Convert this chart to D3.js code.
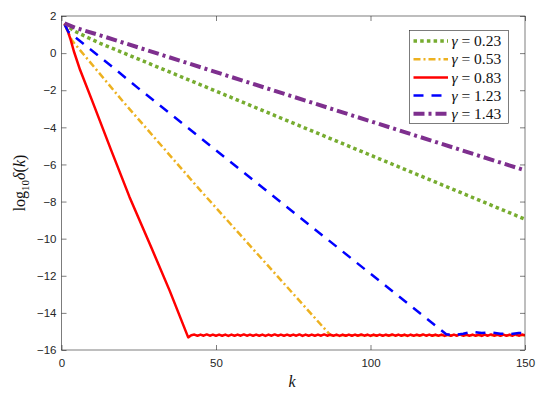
<!DOCTYPE html>
<html>
<head>
<meta charset="utf-8">
<script src="https://cdn.jsdelivr.net/npm/d3@7"></script>
<style>
  html, body { margin: 0; padding: 0; background: #fff; }
  svg { display: block; }
  .serif { font-family: "Liberation Serif", "DejaVu Serif", serif; }
</style>
</head>
<body>
<svg id="chart" width="545" height="396"></svg>
<script>
// ---------------- data ----------------
const gammaLabels = ["0.23", "0.53", "0.83", "1.23", "1.43"];
const xTicks = [0, 50, 100, 150];
const yTicks = [-16, -14, -12, -10, -8, -6, -4, -2, 0, 2];

// gamma = 0.23 (read points)
const kG023 = [1, 4, 9, 12.5, 50, 100, 150];
const vG023 = [1.6, 1.2, 0.8, 0.53, -2.05, -5.5, -8.95];

// gamma = 0.53
const kG053 = [1, 3.3, 19.5, 44.8, 87, 150];
const vG053 = [1.55, 0.7, -2.53, -7.37, -15.2, -15.2];

// gamma = 0.83 (descent)
const kG083 = [1, 2, 3, 4, 6, 10, 16, 22, 29, 35, 41];
const vG083 = [1.6, 1.2, 0.7, 0.1, -0.9, -2.6, -5.2, -7.75, -10.45, -12.8, -15.32];
// gamma = 0.83 floor, one value per k starting at k = 42
const g083FloorStart = 42;
const vG083Floor = [
  -15.20, -15.17, -15.23, -15.17, -15.23, -15.16, -15.23, -15.17, -15.23, -15.17,
  -15.23, -15.17, -15.24, -15.17, -15.23, -15.17, -15.23, -15.16, -15.23, -15.17,
  -15.23, -15.17, -15.23, -15.17, -15.24, -15.17, -15.23, -15.16, -15.23, -15.17,
  -15.23, -15.17, -15.23, -15.17, -15.23, -15.16, -15.24, -15.17, -15.23, -15.17,
  -15.23, -15.17, -15.23, -15.16, -15.23, -15.17, -15.23, -15.17, -15.24, -15.17,
  -15.23, -15.17, -15.23, -15.17, -15.23, -15.16, -15.23, -15.17, -15.24, -15.17,
  -15.23, -15.17, -15.23, -15.17, -15.23, -15.16, -15.23, -15.17, -15.23, -15.17,
  -15.24, -15.17, -15.23, -15.17, -15.23, -15.16, -15.23, -15.17, -15.23, -15.17,
  -15.23, -15.17, -15.24, -15.17, -15.23, -15.17, -15.23, -15.16, -15.23, -15.17,
  -15.23, -15.17, -15.23, -15.17, -15.24, -15.17, -15.23, -15.16, -15.23, -15.17,
  -15.23, -15.17, -15.23, -15.17, -15.23, -15.16, -15.23, -15.17, -15.20
];

// gamma = 1.23
const kG123 = [1, 2.2, 15.7, 24.9, 124.5, 127, 130, 133, 136, 139, 142, 145, 148, 150];
const vG123 = [1.55, 1.15, -0.64, -1.9, -15.15, -15.2, -15.12, -15.02, -15.08, -15.05, -15.12, -15.15, -15.08, -15.1];

// gamma = 1.43
const kG143 = [1, 4.4, 12.5, 150];
const vG143 = [1.6, 1.37, 0.96, -6.32];

// ---------------- chart ----------------
const svg = d3.select("#chart");
const W = 545, H = 396;
const L = 61.5, R = 525, T = 16, B = 350;
svg.append("rect").attr("width", W).attr("height", H).attr("fill", "#fff");

const x = d3.scaleLinear().domain([0, 150]).range([L, R]);
const y = d3.scaleLinear().domain([-16, 2]).range([B, T]);

const axisColor = "#262626";

function styleAxis(g, showLabels) {
  g.select(".domain").remove();
  g.attr("font-family", "Liberation Sans, Arial, sans-serif").attr("font-size", 11.5);
  g.selectAll(".tick line").attr("stroke", axisColor).attr("stroke-width", 0.6);
  g.selectAll(".tick text").attr("fill", axisColor);
  if (!showLabels) g.selectAll(".tick text").remove();
}

svg.append("g").attr("transform", `translate(0,${B})`)
  .call(d3.axisBottom(x).tickValues(xTicks).tickSize(-5).tickPadding(9))
  .call(g => styleAxis(g, true));
svg.append("g").attr("transform", `translate(0,${T})`)
  .call(d3.axisTop(x).tickValues(xTicks).tickSize(-5))
  .call(g => styleAxis(g, false));
svg.append("g").attr("transform", `translate(${L},0)`)
  .call(d3.axisLeft(y).tickValues(yTicks).tickSize(-5).tickPadding(5))
  .call(g => styleAxis(g, true));
svg.append("g").attr("transform", `translate(${R},0)`)
  .call(d3.axisRight(y).tickValues(yTicks).tickSize(-5))
  .call(g => styleAxis(g, false));

// series
const floorK = vG083Floor.map((_, i) => g083FloorStart + i);
const series = [
  { k: kG023, v: vG023, color: "#77ac30", width: 3.5, dash: "3.5,3.2", label: gammaLabels[0] },
  { k: kG053, v: vG053, color: "#edb120", width: 2.5, dash: "7,3,2,3", label: gammaLabels[1] },
  { k: kG083.concat(floorK), v: vG083.concat(vG083Floor), color: "#ff0000", width: 2.5, dash: null, label: gammaLabels[2] },
  { k: kG123, v: vG123, color: "#0000ff", width: 2.5, dash: "10,8", label: gammaLabels[3] },
  { k: kG143, v: vG143, color: "#7e2f8e", width: 4, dash: "11,4,3,4", label: gammaLabels[4] }
];

svg.append("clipPath").attr("id", "plotclip")
  .append("rect").attr("x", L).attr("y", T - 3).attr("width", R - L).attr("height", B - T + 3);

const line = d3.line().x(d => x(d[0])).y(d => y(d[1]));
const plot = svg.append("g").attr("clip-path", "url(#plotclip)");
series.forEach(s => {
  const pts = s.k.map((kk, i) => [kk, s.v[i]]);
  plot.append("path")
    .attr("d", line(pts))
    .attr("fill", "none")
    .attr("stroke", s.color)
    .attr("stroke-width", s.width)
    .attr("stroke-linejoin", "round")
    .attr("stroke-dasharray", s.dash);
});

// box
svg.append("rect").attr("x", L).attr("y", T).attr("width", R - L).attr("height", B - T)
  .attr("fill", "none").attr("stroke", axisColor).attr("stroke-width", 0.6);

// legend
const lg = svg.append("g");
lg.append("rect").attr("x", 409.5).attr("y", 30.5).attr("width", 99).attr("height", 93)
  .attr("fill", "#fff").attr("stroke", axisColor).attr("stroke-width", 0.6);
series.forEach((s, i) => {
  const yy = 41 + i * 18.2;
  lg.append("line").attr("x1", 413.5).attr("x2", 448).attr("y1", yy).attr("y2", yy)
    .attr("stroke", s.color).attr("stroke-width", s.width).attr("stroke-dasharray", s.dash);
  const t = lg.append("text").attr("class", "serif").attr("x", 451.5).attr("y", yy + 5.2)
    .attr("font-size", 15.5).attr("fill", "#111");
  t.append("tspan").attr("font-style", "italic").text("γ");
  t.append("tspan").text(" = " + s.label);
});

// axis labels
svg.append("text").attr("class", "serif").attr("x", 292).attr("y", 387).attr("text-anchor", "middle")
  .attr("font-style", "italic").attr("font-size", 16).attr("fill", "#111").text("k");

const yl = svg.append("text").attr("class", "serif").attr("transform", "translate(25,183) rotate(-90)")
  .attr("text-anchor", "middle").attr("font-size", 16).attr("fill", "#111");
yl.append("tspan").text("log");
yl.append("tspan").attr("dy", 4).attr("font-size", 11).text("10");
yl.append("tspan").attr("dy", -4).attr("font-style", "italic").text("δ");
yl.append("tspan").text("(");
yl.append("tspan").attr("font-style", "italic").text("k");
yl.append("tspan").text(")");
</script>
</body>
</html>
